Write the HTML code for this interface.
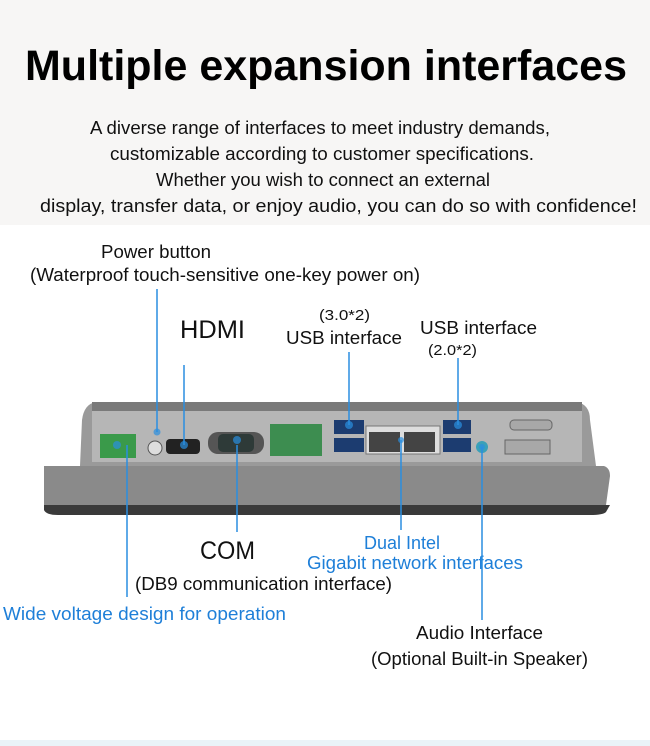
<!DOCTYPE html>
<html><head><meta charset="utf-8"><style>
body{margin:0;width:650px;height:746px;background:#fff;overflow:hidden;font-family:"Liberation Sans",sans-serif;}
svg{display:block}
</style></head><body>
<svg width="650" height="746" viewBox="0 0 650 746" xmlns="http://www.w3.org/2000/svg" font-family="Liberation Sans, sans-serif">
<rect x="0" y="0" width="650" height="225" fill="#f7f6f5"/>
<rect x="0" y="740" width="650" height="6" fill="#eaf3f8"/>
<text x="25" y="80" font-size="43" font-weight="bold" fill="#000" textLength="602" lengthAdjust="spacingAndGlyphs">Multiple expansion interfaces</text>
<g font-size="18" fill="#111" lengthAdjust="spacingAndGlyphs">
<text x="90" y="134" textLength="460" lengthAdjust="spacingAndGlyphs">A diverse range of interfaces to meet industry demands,</text>
<text x="110" y="160" textLength="424" lengthAdjust="spacingAndGlyphs">customizable according to customer specifications.</text>
<text x="156" y="186" textLength="334" lengthAdjust="spacingAndGlyphs">Whether you wish to connect an external</text>
<text x="40" y="212" textLength="597" lengthAdjust="spacingAndGlyphs">display, transfer data, or enjoy audio, you can do so with confidence!</text>
<text x="101" y="258" textLength="110" lengthAdjust="spacingAndGlyphs">Power button</text>
<text x="30" y="281" textLength="390" lengthAdjust="spacingAndGlyphs">(Waterproof touch-sensitive one-key power on)</text>
<text x="319" y="320" font-size="15" textLength="51" lengthAdjust="spacingAndGlyphs">(3.0*2)</text>
<text x="286" y="344" textLength="116" lengthAdjust="spacingAndGlyphs">USB interface</text>
<text x="420" y="334" textLength="117" lengthAdjust="spacingAndGlyphs">USB interface</text>
<text x="428" y="355" font-size="15" textLength="49" lengthAdjust="spacingAndGlyphs">(2.0*2)</text>
<text x="416" y="639" textLength="127" lengthAdjust="spacingAndGlyphs">Audio Interface</text>
<text x="371" y="665" textLength="217" lengthAdjust="spacingAndGlyphs">(Optional Built-in Speaker)</text>
<text x="135" y="590" textLength="257" lengthAdjust="spacingAndGlyphs">(DB9 communication interface)</text>
</g>
<text x="180" y="338" font-size="25" fill="#111" textLength="65" lengthAdjust="spacingAndGlyphs">HDMI</text>
<text x="200" y="559" font-size="25" fill="#111" textLength="55" lengthAdjust="spacingAndGlyphs">COM</text>
<g font-size="18" fill="#1e7fd8">
<text x="364" y="549" textLength="76" lengthAdjust="spacingAndGlyphs">Dual Intel</text>
<text x="307" y="569" textLength="216" lengthAdjust="spacingAndGlyphs">Gigabit network interfaces</text>
<text x="3" y="620" textLength="283" lengthAdjust="spacingAndGlyphs">Wide voltage design for operation</text>
</g>
<!-- device -->
<path d="M44 466 L604 466 Q610 468 610 476 L606 505 Q603 514 590 514 L58 514 Q46 514 44 505 Z" fill="#8a8a8a"/>
<path d="M44 505 L610 505 L606 512 Q603 515 590 515 L58 515 Q46 515 44 510Z" fill="#3a3a3a"/>
<path d="M96 402 L576 402 Q590 404 590 420 L596 466 L80 466 L82 420 Q84 404 96 402Z" fill="#9a9a9a"/>
<rect x="92" y="410" width="490" height="52" fill="#b6b6b6"/>
<rect x="92" y="402" width="490" height="9" fill="#7a7a7a"/>
<rect x="100" y="434" width="36" height="24" fill="#3a9a4a"/>
<circle cx="155" cy="448" r="7" fill="#ddd" stroke="#555"/>
<rect x="166" y="439" width="34" height="15" rx="4" fill="#222"/>
<rect x="208" y="432" width="56" height="22" rx="10" fill="#555"/>
<rect x="218" y="434" width="36" height="18" rx="5" fill="#2e3a38"/>
<rect x="270" y="424" width="52" height="32" fill="#3d8d50"/>
<rect x="334" y="420" width="30" height="14" fill="#1c3c70"/>
<rect x="334" y="438" width="30" height="14" fill="#1c3c70"/>
<rect x="366" y="426" width="74" height="28" fill="#ddd" stroke="#777"/>
<rect x="369" y="432" width="31" height="20" fill="#444"/>
<rect x="404" y="432" width="31" height="20" fill="#444"/>
<rect x="443" y="420" width="28" height="14" fill="#1c3c70"/>
<rect x="443" y="438" width="28" height="14" fill="#1c3c70"/>
<circle cx="482" cy="447" r="6" fill="#3aa0b8"/>
<rect x="505" y="440" width="45" height="14" fill="#a8a8a8" stroke="#666"/>
<rect x="510" y="420" width="42" height="10" rx="4" fill="#a8a8a8" stroke="#666"/>
<!-- connectors -->
<g stroke="#2a8ee0" stroke-width="1.5" fill="none">
<line x1="157" y1="289" x2="157" y2="432"/>
<line x1="184" y1="365" x2="184" y2="445"/>
<line x1="349" y1="352" x2="349" y2="425"/>
<line x1="458" y1="358" x2="458" y2="425"/>
<line x1="127" y1="445" x2="127" y2="597"/>
<line x1="237" y1="445" x2="237" y2="532"/>
<line x1="401" y1="440" x2="401" y2="530"/>
<line x1="482" y1="447" x2="482" y2="620"/>
</g>
<g fill="#2a8ee0" fill-opacity="0.7">
<circle cx="157" cy="432" r="3.5"/><circle cx="184" cy="445" r="4"/><circle cx="349" cy="425" r="4"/>
<circle cx="458" cy="425" r="4"/><circle cx="117" cy="445" r="4"/><circle cx="237" cy="440" r="4"/>
<circle cx="401" cy="440" r="3"/><circle cx="482" cy="447" r="3"/>
</g>
</svg>
</body></html>
